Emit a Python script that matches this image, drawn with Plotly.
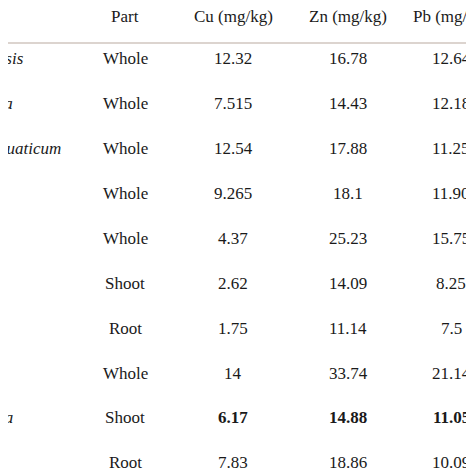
import plotly.graph_objects as go

# table data
species = ["Pistia stratiotes sinensis", "Eichhornia crassipes a", "Myriophyllum aquaticum",
           "", "", "", "", "", "Alternanthera philoxeroides a", ""]
species_end = [18, 7, 55, 0, 0, 0, 0, 0, 7, 0]
parts = ["Whole", "Whole", "Whole", "Whole", "Whole", "Shoot", "Root", "Whole", "Shoot", "Root"]
cu = ["12.32", "7.515", "12.54", "9.265", "4.37", "2.62", "1.75", "14", "6.17", "7.83"]
zn = ["16.78", "14.43", "17.88", "18.1", "25.23", "14.09", "11.14", "33.74", "14.88", "18.86"]
pb = ["12.64", "12.18", "11.25", "11.90", "15.75", "8.25", "7.5", "21.14", "11.05", "10.09"]
bold_rows = [8]
headers = ["Part", "Cu (mg/kg)", "Zn (mg/kg)", "Pb (mg/kg)"]

col_x = [117, 225, 340, 443]
row_y = [50, 95, 140, 185, 230, 275, 320, 365, 409, 454]
font = dict(family="Liberation Serif, serif", size=17, color="#1a1a1a")

fig = go.Figure()
ann = []
for h, x in zip(headers, col_x):
    ann.append(dict(x=x, y=8, text=h, showarrow=False, font=font))
for i, y in enumerate(row_y):
    if species[i]:
        ann.append(dict(x=species_end[i], y=y, text="<i>" + species[i] + "</i>", xanchor="right",
                        showarrow=False, font=font))
    vals = [parts[i], cu[i], zn[i], pb[i]]
    for j, (v, x) in enumerate(zip(vals, col_x)):
        t = "<b>" + v + "</b>" if (i in bold_rows and j > 0) else v
        ann.append(dict(x=x, y=y, text=t, showarrow=False, font=font))

fig.update_layout(
    width=474, height=474, margin=dict(l=0, r=0, t=0, b=0),
    paper_bgcolor="white", plot_bgcolor="white",
    xaxis=dict(range=[0, 474], visible=False),
    yaxis=dict(range=[474, 0], visible=False),
    annotations=ann,
    shapes=[dict(type="line", x0=0, x1=474, y0=35, y1=35, line=dict(color="#b9a9a0", width=1.2))],
)
fig.write_html("out.html")
